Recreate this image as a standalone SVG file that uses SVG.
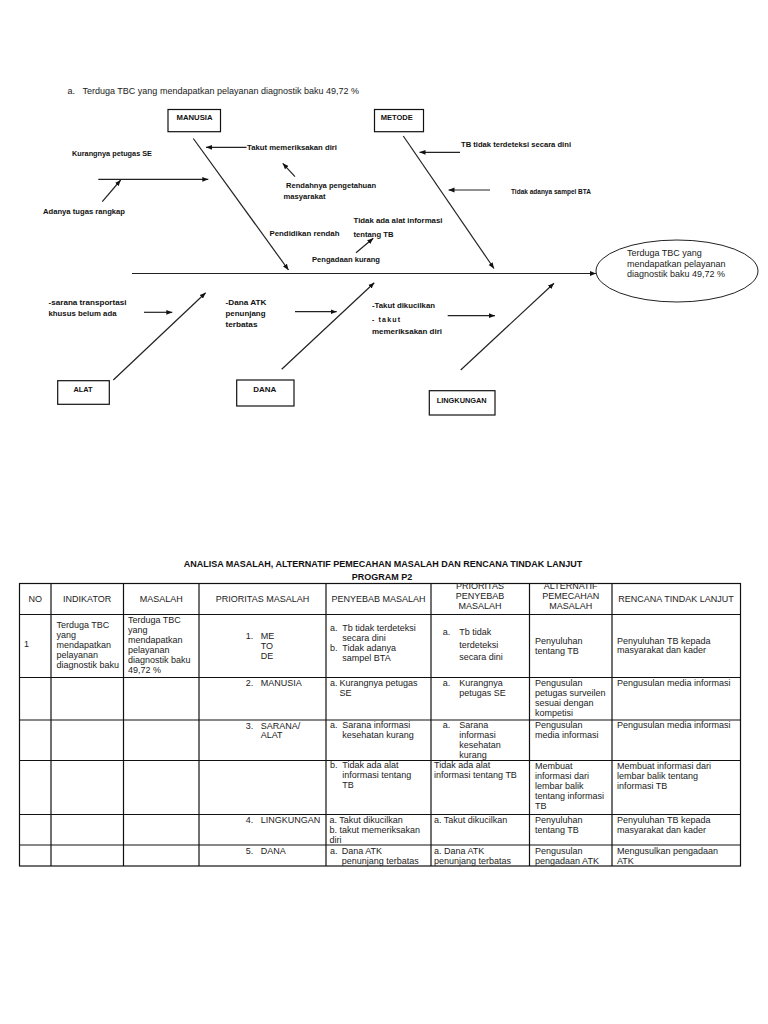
<svg xmlns="http://www.w3.org/2000/svg" width="768" height="1024" viewBox="0 0 768 1024">
<style>
.bg{fill:#ffffff}
.box{fill:#ffffff;stroke:#111;stroke-width:1.2}
.bone{stroke:#222;stroke-width:1.2;fill:none}
.fb{font-family:"Liberation Sans",Arial,sans-serif;font-size:7px;font-weight:bold;fill:#111}
.bl{font-family:"Liberation Sans",Arial,sans-serif;font-size:7px;font-weight:bold;fill:#111;text-anchor:middle}
.t9{font-family:"Liberation Sans",Arial,sans-serif;font-size:9px;fill:#222}
.hd{font-family:"Liberation Sans",Arial,sans-serif;font-size:9px;fill:#222;text-anchor:middle}
.ttl{font-family:"Liberation Sans",Arial,sans-serif;font-size:9px;font-weight:bold;fill:#111;text-anchor:middle}
.grid{stroke:#111;stroke-width:1.2;fill:none}
</style>
<defs>
<marker id="ah" viewBox="0 0 10 10" refX="10" refY="5" markerWidth="6" markerHeight="6" orient="auto" markerUnits="userSpaceOnUse">
<path d="M0,1 L10,5 L0,9 z" fill="#111"/>
</marker>
</defs>
<rect class="bg" x="0" y="0" width="768" height="1024"/>

<text class="t9" x="67.5" y="94" fill="#111">a.</text>
<text class="t9" x="82.5" y="94" fill="#111">Terduga TBC yang mendapatkan pelayanan diagnostik baku 49,72 %</text>

<g id="connectors">
<line class="bone" x1="132" y1="273.5" x2="596" y2="273.5" marker-end="url(#ah)"/>
<line class="bone" x1="193.3" y1="138.5" x2="288.5" y2="270" marker-end="url(#ah)"/>
<line class="bone" x1="403.3" y1="136" x2="494" y2="268.5" marker-end="url(#ah)"/>
<line class="bone" x1="113.3" y1="380" x2="205.7" y2="292.7" marker-end="url(#ah)"/>
<line class="bone" x1="281.7" y1="369.3" x2="374.3" y2="282.7" marker-end="url(#ah)"/>
<line class="bone" x1="460.7" y1="370" x2="554" y2="283.3" marker-end="url(#ah)"/>
<line class="bone" x1="98.3" y1="179.3" x2="208.3" y2="179.3" marker-end="url(#ah)"/>
<line class="bone" x1="102.3" y1="201.7" x2="120.7" y2="180" marker-end="url(#ah)"/>
<line class="bone" x1="246.5" y1="147.3" x2="206" y2="147.3" marker-end="url(#ah)"/>
<line class="bone" x1="295" y1="176.7" x2="282.7" y2="163.3" marker-end="url(#ah)"/>
<line class="bone" x1="356" y1="252.7" x2="373.3" y2="238.3" marker-end="url(#ah)"/>
<line class="bone" x1="460" y1="152.3" x2="419.5" y2="152.3" marker-end="url(#ah)"/>
<line class="bone" x1="490" y1="190" x2="448.5" y2="190" marker-end="url(#ah)"/>
<line class="bone" x1="144" y1="312.3" x2="172.3" y2="312.3" marker-end="url(#ah)"/>
<line class="bone" x1="295" y1="311.7" x2="336.7" y2="311.7" marker-end="url(#ah)"/>
<line class="bone" x1="447.7" y1="315.7" x2="495" y2="315.7" marker-end="url(#ah)"/>
</g>

<g id="node-manusia">
<rect class="box" x="168" y="109.5" width="52.5" height="22.2"/>
<text class="bl" x="194.5" y="119.8" textLength="36" lengthAdjust="spacingAndGlyphs">MANUSIA</text>
</g>
<g id="node-metode">
<rect class="box" x="374.5" y="109.5" width="49" height="22.2"/>
<text class="bl" x="396.7" y="119.8" textLength="32" lengthAdjust="spacingAndGlyphs">METODE</text>
</g>
<g id="node-alat">
<rect class="box" x="57.7" y="380.7" width="51.6" height="23.6"/>
<text class="bl" x="83" y="392" textLength="19" lengthAdjust="spacingAndGlyphs">ALAT</text>
</g>
<g id="node-dana">
<rect class="box" x="236.7" y="380" width="57.3" height="26"/>
<text class="bl" x="264.7" y="391.5" textLength="23" lengthAdjust="spacingAndGlyphs">DANA</text>
</g>
<g id="node-lingkungan">
<rect class="box" x="429.3" y="390.7" width="65.7" height="24.3"/>
<text class="bl" x="461.7" y="402.5" textLength="50" lengthAdjust="spacingAndGlyphs">LINGKUNGAN</text>
</g>
<g id="node-effect">
<ellipse cx="677" cy="271" rx="81" ry="31" fill="#fff" stroke="#222" stroke-width="1"/>
<text class="t9" x="627" y="256" fill="#111">Terduga TBC yang</text>
<text class="t9" x="627" y="266.5" fill="#111">mendapatkan pelayanan</text>
<text class="t9" x="627" y="277" fill="#111">diagnostik baku 49,72 %</text>
</g>

<g id="cause-labels">
<text class="fb" x="72" y="155.5" textLength="80" lengthAdjust="spacingAndGlyphs">Kurangnya petugas SE</text>
<text class="fb" x="43" y="213.5" textLength="82" lengthAdjust="spacingAndGlyphs">Adanya tugas rangkap</text>
<text class="fb" x="247" y="149.5" textLength="90" lengthAdjust="spacingAndGlyphs">Takut memeriksakan diri</text>
<text class="fb" x="286" y="187.5" textLength="90" lengthAdjust="spacingAndGlyphs">Rendahnya pengetahuan</text>
<text class="fb" x="283.5" y="199" textLength="42" lengthAdjust="spacingAndGlyphs">masyarakat</text>
<text class="fb" x="269.5" y="235.5" textLength="70" lengthAdjust="spacingAndGlyphs">Pendidikan rendah</text>
<text class="fb" x="353.5" y="222.5" textLength="89" lengthAdjust="spacingAndGlyphs">Tidak ada alat informasi</text>
<text class="fb" x="353.5" y="236.5" textLength="40" lengthAdjust="spacingAndGlyphs">tentang TB</text>
<text class="fb" x="312" y="261.5" textLength="68" lengthAdjust="spacingAndGlyphs">Pengadaan kurang</text>
<text class="fb" x="461" y="146.5" textLength="110" lengthAdjust="spacingAndGlyphs">TB tidak terdeteksi secara dini</text>
<text class="fb" x="511" y="193.5" textLength="80" lengthAdjust="spacingAndGlyphs">Tidak adanya sampel BTA</text>
<text class="fb" x="48.5" y="305" textLength="78" lengthAdjust="spacingAndGlyphs">-sarana transportasi</text>
<text class="fb" x="48.5" y="315.5" textLength="68" lengthAdjust="spacingAndGlyphs">khusus belum ada</text>
<text class="fb" x="225.5" y="305" textLength="41" lengthAdjust="spacingAndGlyphs">-Dana ATK</text>
<text class="fb" x="225.5" y="315.5" textLength="40" lengthAdjust="spacingAndGlyphs">penunjang</text>
<text class="fb" x="225.5" y="326.5" textLength="32" lengthAdjust="spacingAndGlyphs">terbatas</text>
<text class="fb" x="372" y="307.5" textLength="63" lengthAdjust="spacingAndGlyphs">-Takut dikucilkan</text>
<text class="fb" x="372" y="321.5" textLength="28" lengthAdjust="spacing">- takut</text>
<text class="fb" x="372" y="334" textLength="70" lengthAdjust="spacingAndGlyphs">memeriksakan diri</text>
</g>

<g id="table">
<text class="ttl" x="383" y="567">ANALISA MASALAH, ALTERNATIF PEMECAHAN MASALAH DAN RENCANA TINDAK LANJUT</text>
<text class="ttl" x="382" y="580">PROGRAM P2</text>
<g id="table-grid">
<rect class="grid" x="19.5" y="583.5" width="721" height="282.5"/>
<line class="grid" x1="51" y1="583.5" x2="51" y2="866"/>
<line class="grid" x1="123.5" y1="583.5" x2="123.5" y2="866"/>
<line class="grid" x1="199" y1="583.5" x2="199" y2="866"/>
<line class="grid" x1="326" y1="583.5" x2="326" y2="866"/>
<line class="grid" x1="431" y1="583.5" x2="431" y2="866"/>
<line class="grid" x1="529.5" y1="583.5" x2="529.5" y2="866"/>
<line class="grid" x1="612" y1="583.5" x2="612" y2="866"/>
<line class="grid" x1="19.5" y1="614.5" x2="740.5" y2="614.5"/>
<line class="grid" x1="19.5" y1="677.5" x2="740.5" y2="677.5"/>
<line class="grid" x1="19.5" y1="720" x2="740.5" y2="720"/>
<line class="grid" x1="19.5" y1="760.5" x2="740.5" y2="760.5"/>
<line class="grid" x1="19.5" y1="814.5" x2="740.5" y2="814.5"/>
<line class="grid" x1="19.5" y1="845" x2="740.5" y2="845"/>
</g>
<g id="table-header">
<text class="hd" x="35.2" y="602">NO</text>
<text class="hd" x="87.2" y="602">INDIKATOR</text>
<text class="hd" x="161.2" y="602">MASALAH</text>
<text class="hd" x="262.5" y="602">PRIORITAS MASALAH</text>
<text class="hd" x="378.5" y="602">PENYEBAB MASALAH</text>
<text class="hd" x="480" y="588.5">PRIORITAS</text>
<text class="hd" x="480" y="598.5">PENYEBAB</text>
<text class="hd" x="480" y="609">MASALAH</text>
<text class="hd" x="570.7" y="588.5">ALTERNATIF</text>
<text class="hd" x="570.7" y="598.5">PEMECAHAN</text>
<text class="hd" x="570.7" y="609">MASALAH</text>
<text class="hd" x="676" y="602">RENCANA TINDAK LANJUT</text>
</g>
<g id="row1">
<text class="t9" x="24" y="646.5">1</text>
<text class="t9" x="56.5" y="627.5">Terduga TBC</text>
<text class="t9" x="56.5" y="637.5">yang</text>
<text class="t9" x="56.5" y="647.5">mendapatkan</text>
<text class="t9" x="56.5" y="657.5">pelayanan</text>
<text class="t9" x="56.5" y="667.5">diagnostik baku</text>
<text class="t9" x="128" y="622.5">Terduga TBC</text>
<text class="t9" x="128" y="632.5">yang</text>
<text class="t9" x="128" y="642.5">mendapatkan</text>
<text class="t9" x="128" y="652.5">pelayanan</text>
<text class="t9" x="128" y="662.5">diagnostik baku</text>
<text class="t9" x="128" y="672.5">49,72 %</text>
<text class="t9" x="245.7" y="638.5">1.</text>
<text class="t9" x="260.7" y="638.5">ME</text>
<text class="t9" x="260.7" y="648.5">TO</text>
<text class="t9" x="260.7" y="659">DE</text>
<text class="t9" x="330" y="631">a.</text>
<text class="t9" x="342.3" y="631">Tb tidak terdeteksi</text>
<text class="t9" x="342.3" y="641">secara dini</text>
<text class="t9" x="330" y="650.5">b.</text>
<text class="t9" x="342.3" y="650.5">Tidak adanya</text>
<text class="t9" x="342.3" y="661">sampel BTA</text>
<text class="t9" x="442.7" y="635">a.</text>
<text class="t9" x="459.3" y="635">Tb tidak</text>
<text class="t9" x="459.3" y="647.5">terdeteksi</text>
<text class="t9" x="459.3" y="660">secara dini</text>
<text class="t9" x="535" y="644">Penyuluhan</text>
<text class="t9" x="535" y="653.5">tentang TB</text>
<text class="t9" x="617" y="643.5">Penyuluhan TB kepada</text>
<text class="t9" x="617" y="653">masyarakat dan kader</text>
</g>
<g id="row2">
<text class="t9" x="245.7" y="686">2.</text>
<text class="t9" x="260.7" y="686">MANUSIA</text>
<text class="t9" x="330" y="686">a.</text>
<text class="t9" x="339.5" y="686">Kurangnya petugas</text>
<text class="t9" x="339.5" y="696">SE</text>
<text class="t9" x="442.7" y="686">a.</text>
<text class="t9" x="459.3" y="686">Kurangnya</text>
<text class="t9" x="459.3" y="696">petugas SE</text>
<text class="t9" x="535" y="686">Pengusulan</text>
<text class="t9" x="535" y="696">petugas surveilen</text>
<text class="t9" x="535" y="706">sesuai dengan</text>
<text class="t9" x="535" y="716">kompetisi</text>
<text class="t9" x="617" y="686">Pengusulan media informasi</text>
</g>
<g id="row3">
<text class="t9" x="245.7" y="728.5">3.</text>
<text class="t9" x="260.7" y="728.5">SARANA/</text>
<text class="t9" x="260.7" y="738">ALAT</text>
<text class="t9" x="330" y="728">a.</text>
<text class="t9" x="342.3" y="728">Sarana informasi</text>
<text class="t9" x="342.3" y="738">kesehatan kurang</text>
<text class="t9" x="442.7" y="728">a.</text>
<text class="t9" x="459.3" y="728">Sarana</text>
<text class="t9" x="459.3" y="738">informasi</text>
<text class="t9" x="459.3" y="748">kesehatan</text>
<text class="t9" x="459.3" y="758">kurang</text>
<text class="t9" x="535" y="728">Pengusulan</text>
<text class="t9" x="535" y="738">media informasi</text>
<text class="t9" x="617" y="728">Pengusulan media informasi</text>
</g>
<g id="row4">
<text class="t9" x="330" y="768">b.</text>
<text class="t9" x="342.3" y="768">Tidak ada alat</text>
<text class="t9" x="342.3" y="778">informasi tentang</text>
<text class="t9" x="342.3" y="788">TB</text>
<text class="t9" x="434" y="768">Tidak ada alat</text>
<text class="t9" x="434" y="778">informasi tentang TB</text>
<text class="t9" x="535" y="768.5">Membuat</text>
<text class="t9" x="535" y="778.5">informasi dari</text>
<text class="t9" x="535" y="789">lembar balik</text>
<text class="t9" x="535" y="799">tentang informasi</text>
<text class="t9" x="535" y="809">TB</text>
<text class="t9" x="617" y="768.5">Membuat informasi dari</text>
<text class="t9" x="617" y="778.5">lembar balik tentang</text>
<text class="t9" x="617" y="789">informasi TB</text>
</g>
<g id="row5">
<text class="t9" x="245.7" y="822.5">4.</text>
<text class="t9" x="260.7" y="822.5">LINGKUNGAN</text>
<text class="t9" x="329.5" y="822.5">a. Takut dikucilkan</text>
<text class="t9" x="329.5" y="832.5">b. takut memeriksakan</text>
<text class="t9" x="329.5" y="842.5">diri</text>
<text class="t9" x="434" y="822.5">a. Takut dikucilkan</text>
<text class="t9" x="535" y="822.5">Penyuluhan</text>
<text class="t9" x="535" y="832.5">tentang TB</text>
<text class="t9" x="617" y="822.5">Penyuluhan TB kepada</text>
<text class="t9" x="617" y="832.5">masyarakat dan kader</text>
</g>
<g id="row6">
<text class="t9" x="245.7" y="854">5.</text>
<text class="t9" x="260.7" y="854">DANA</text>
<text class="t9" x="330" y="854">a.</text>
<text class="t9" x="341.7" y="854">Dana ATK</text>
<text class="t9" x="341.7" y="863.5">penunjang terbatas</text>
<text class="t9" x="434" y="854">a. Dana ATK</text>
<text class="t9" x="434" y="863.5">penunjang terbatas</text>
<text class="t9" x="535" y="854">Pengusulan</text>
<text class="t9" x="535" y="863.5">pengadaan ATK</text>
<text class="t9" x="617" y="854">Mengusulkan pengadaan</text>
<text class="t9" x="617" y="863.5">ATK</text>
</g>
</g>
</svg>
